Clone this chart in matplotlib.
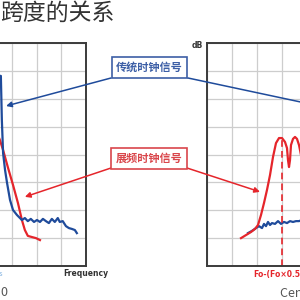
import matplotlib.pyplot as plt

plt.rcParams['font.family'] = ['Noto Sans CJK SC', 'DejaVu Sans']

# spectrum traces, frequency in grid divisions, level in dB
conv_f_left = [0.44, 0.56, 0.60, 0.65, 0.73, 0.81, 0.93, 1.05, 1.21, 1.41, 1.53, 1.65, 1.77,
               1.90, 2.02, 2.14, 2.26, 2.38, 2.50, 2.62, 2.74, 2.86, 2.94, 3.06, 3.19, 3.31,
               3.43, 3.55, 3.63]
conv_db_left = [-11.8, -11.8, -27.6, -39.5, -45.6, -50.2, -56.3, -59.9, -61.7, -63.5, -62.8,
                -63.9, -63.1, -64.2, -63.5, -64.2, -63.1, -63.9, -64.6, -63.1, -64.2, -62.8,
                -64.2, -63.9, -65.7, -66.4, -66.7, -67.1, -68.2]

ss_f_left = [0.44, 0.52, 0.65, 0.85, 1.05, 1.25, 1.41, 1.53, 1.65, 1.81, 1.98, 2.14]
ss_db_left = [-33.0, -34.8, -38.4, -44.8, -50.9, -57.4, -63.5, -67.1, -69.2, -69.6, -70.0, -70.7]

conv_f_right = [1.64, 1.80, 1.96, 2.08, 2.20, 2.28, 2.36, 2.44, 2.52, 2.60, 2.72, 2.84, 2.96,
                3.08, 3.20, 3.32, 3.44, 3.56, 3.68, 3.80]
conv_db_right = [-68.2, -67.4, -66.4, -65.7, -66.4, -64.9, -65.7, -64.2, -65.3, -64.6, -64.9,
                 -63.9, -64.9, -64.2, -64.6, -63.9, -64.2, -63.9, -63.9, -63.5]

ss_f_right = [1.36, 1.56, 1.76, 1.92, 2.04, 2.16, 2.28, 2.40, 2.52, 2.64, 2.76, 2.88, 3.00,
              3.12, 3.20, 3.24, 3.28, 3.32, 3.36, 3.44, 3.52, 3.60, 3.68, 3.76]
ss_db_right = [-70.0, -68.9, -67.8, -66.7, -65.3, -61.7, -57.4, -52.7, -47.4, -40.9, -35.9,
               -34.1, -34.1, -35.5, -37.7, -42.0, -44.5, -42.0, -36.6, -34.4, -33.7, -34.4,
               -36.6, -40.2]

marker_f = 3.0
marker_top_db = -34.0

BLUE = "#1f4b9b"
RED = "#e5252b"
BOX_BLUE = "#3d5fa6"
BOX_RED = "#d9464b"


def fx(px):
    return px / 300


def fy(py):
    return 1 - py / 300


fig = plt.figure(figsize=(3, 3), dpi=100)
fig.patch.set_facecolor("white")

ax_l = fig.add_axes([fx(-13), fy(266), 99 / 300, 223 / 300])
ax_r = fig.add_axes([fx(207), fy(266), 100 / 300, 223 / 300])

for ax in (ax_l, ax_r):
    ax.set_xlim(0, 4)
    ax.set_ylim(-80, 0)
    ax.set_xticks(range(0, 5))
    ax.set_yticks(range(-80, 1, 10))
    ax.grid(True, color="#cdcdcd", lw=0.9)
    ax.tick_params(length=0, labelbottom=False, labelleft=False)
    for s in ax.spines.values():
        s.set_color("#3b3b3b")
        s.set_linewidth(1.4)
    ax.set_axisbelow(True)

ax_l.plot(ss_f_left, ss_db_left, color=RED, lw=1.6)
ax_l.plot(conv_f_left, conv_db_left, color=BLUE, lw=1.6)

ax_r.plot(conv_f_right, conv_db_right, color=BLUE, lw=1.6)
ax_r.plot(ss_f_right, ss_db_right, color=RED, lw=1.6)
ax_r.axvline(marker_f, ymax=(80 + marker_top_db) / 80, color=RED, lw=1.2, ls=(0, (4, 2.5)))

# title and axis texts
fig.text(fx(0), fy(13), "跨度的关系", fontsize=16.5, color="#333333", ha="left", va="center")
fig.text(fx(86), fy(274), "Frequency", fontsize=5.5, fontweight="bold", color="#333333",
         ha="center", va="center", family="DejaVu Sans")
fig.text(fx(203), fy(46), "dB", fontsize=5.5, fontweight="bold", color="#333333",
         ha="right", va="center", family="DejaVu Sans")
fig.text(fx(282), fy(274), "Fo-(Fo×0.5%)", fontsize=5.5, fontweight="bold", color=RED,
         ha="center", va="center", family="DejaVu Sans")
fig.text(fx(2), fy(274), "s", fontsize=5.5, color="#7fb0e0", ha="right", va="center")
fig.text(fx(7), fy(293), "0", fontsize=9, color="#555555", ha="right", va="center")
fig.text(fx(280), fy(293), "Center Frequency", fontsize=9, color="#555555", ha="left",
         va="center")

# callout boxes
fig.text(fx(149.5), fy(67.5), "传统时钟信号", fontsize=8, fontweight="bold", color=BOX_BLUE,
         ha="center", va="center",
         bbox=dict(boxstyle="square,pad=0.4", fc="white", ec=BOX_BLUE, lw=1.2))
fig.text(fx(149), fy(158.5), "展频时钟信号", fontsize=8, fontweight="bold", color=BOX_RED,
         ha="center", va="center",
         bbox=dict(boxstyle="square,pad=0.4", fc="white", ec=BOX_RED, lw=1.2))

arrow_kw = dict(arrowstyle="-|>", lw=1.1, mutation_scale=8, shrinkA=0, shrinkB=0)
fig.add_artist(plt.Line2D([fx(188), fx(310)], [fy(78), fy(104)], color=BLUE, lw=1.1))
ax_l.annotate("", xy=(0.77, -22.6), xycoords="data", xytext=(fx(111), fy(78)),
              textcoords="figure fraction", annotation_clip=False,
              arrowprops=dict(color=BLUE, **arrow_kw))
ax_l.annotate("", xy=(1.53, -55.2), xycoords="data", xytext=(fx(111), fy(168)),
              textcoords="figure fraction", annotation_clip=False,
              arrowprops=dict(color=RED, **arrow_kw))
ax_r.annotate("", xy=(2.12, -53.4), xycoords="data", xytext=(fx(187), fy(168)),
              textcoords="figure fraction", annotation_clip=False,
              arrowprops=dict(color=RED, **arrow_kw))

fig.savefig("out.png", dpi=100)
